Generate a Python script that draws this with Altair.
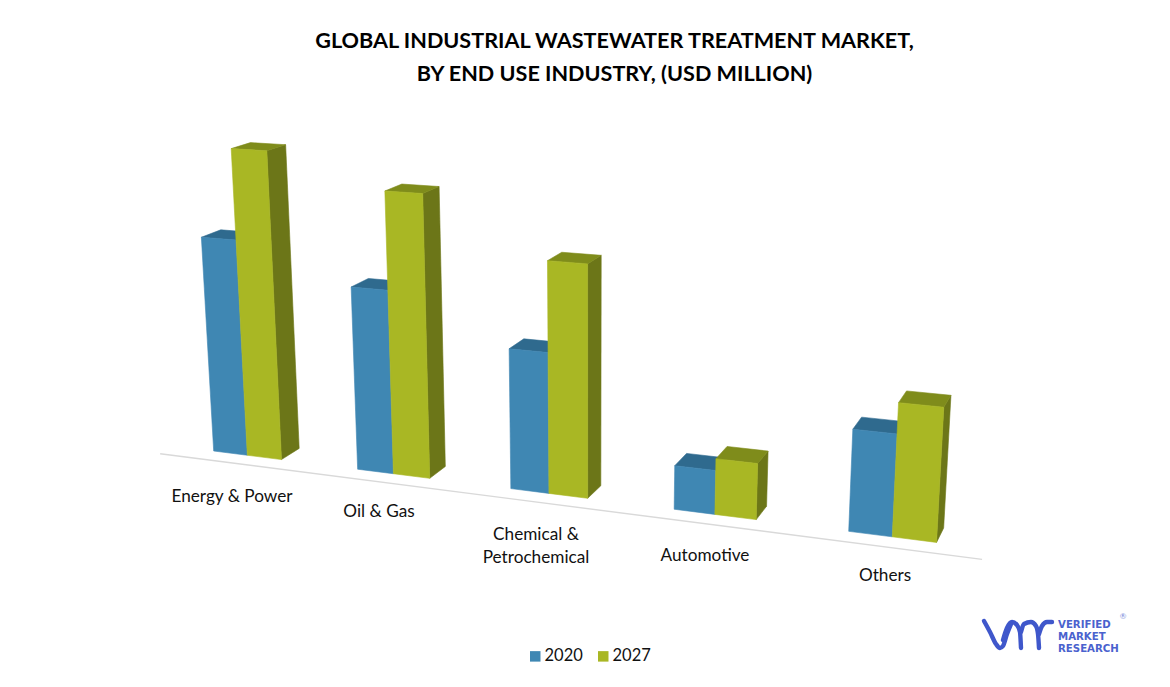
import altair as alt
import pandas as pd

categories = ["Energy & Power", "Oil & Gas", "Chemical & Petrochemical", "Automotive", "Others"]
values_2020 = [207.0, 172.4, 129.4, 39.7, 89.5]
values_2027 = [291.0, 261.8, 210.9, 50.3, 116.2]
series = ["2020", "2027"]
title_lines = ["GLOBAL INDUSTRIAL WASTEWATER TREATMENT MARKET,", "BY END USE INDUSTRY, (USD MILLION)"]

FRONT = {"2020": "#3F87B3", "2027": "#A9B724"}
TOP = {"2020": "#2F6A8E", "2027": "#7F8C1B"}
SIDE = {"2020": "#2F6A8E", "2027": "#6C7618"}
FONT = "Lato"
W, H = 1154, 671

# Perspective camera: X along the category axis, Y depth, Z the value
PITCH = 4.18


def project(X, Y, Z):
    w = 1 - 0.00721 * X + 0.0175 * Y - 0.0001534 * Z
    px = 213.7 + 31.86 * X + 22.68 * Y - 0.0905 * Z
    py = 451 + 0.973 * X - 3.17 * Y - 1.069 * Z
    return px / w, py / w


xs = alt.Scale(domain=[8, 8 + W], nice=False, zero=False)
ys = alt.Scale(domain=[8 + H, 8], nice=False, zero=False)
X_ENC = alt.X("px:Q", scale=xs, axis=None)
Y_ENC = alt.Y("py:Q", scale=ys, axis=None)


def polygon(corners, color, name):
    rows = []
    for i, c in enumerate(corners + corners[:1]):
        px, py = project(*c)
        rows.append({"px": px, "py": py, "i": i, "face": name})
    return (
        alt.Chart(pd.DataFrame(rows))
        .mark_line(fill=color, stroke=color, strokeWidth=0.6, interpolate="linear", clip=False)
        .encode(x=X_ENC, y=Y_ENC, order="i:Q")
    )


layers = []

# invisible layer that carries the legend
legend_df = pd.DataFrame({"series": series, "px": [-100, -100], "py": [-100, -100]})
layers.append(
    alt.Chart(legend_df)
    .mark_square(opacity=0, clip=True)
    .encode(
        x=X_ENC,
        y=Y_ENC,
        color=alt.Color(
            "series:N",
            scale=alt.Scale(domain=series, range=[FRONT[s] for s in series]),
            legend=alt.Legend(
                title=None,
                orient="none",
                direction="horizontal",
                legendX=519,
                legendY=640,
                symbolType="square",
                symbolSize=110,
                symbolOpacity=1,
                symbolStrokeWidth=0,
                labelFont=FONT,
                labelFontSize=16.5,
                labelColor="#111111",
                labelOffset=1,
                columnPadding=12,
                padding=0,
            ),
        ),
    )
)

# floor line
axis_rows = []
for i, X in enumerate([-1.2, 19.83]):
    px, py = project(X, -0.7, 0)
    axis_rows.append({"px": px, "py": py, "i": i})
layers.append(
    alt.Chart(pd.DataFrame(axis_rows))
    .mark_line(color="#D9D9D9", strokeWidth=1.4)
    .encode(x=X_ENC, y=Y_ENC, order="i:Q")
)

# bars
for k, cat in enumerate(categories):
    for j, (s, v) in enumerate(zip(series, (values_2020[k], values_2027[k]))):
        x0 = k * PITCH + j
        x1 = x0 + 1
        name = f"{cat} {s}"
        if s == "2027":
            layers.append(polygon([(x1, 0, 0), (x1, 1, 0), (x1, 1, v), (x1, 0, v)], SIDE[s], name + " side"))
        layers.append(polygon([(x0, 0, v), (x1, 0, v), (x1, 1, v), (x0, 1, v)], TOP[s], name + " top"))
        layers.append(polygon([(x0, 0, 0), (x1, 0, 0), (x1, 0, v), (x0, 0, v)], FRONT[s], name + " front"))

# category labels
labels = pd.DataFrame(
    {
        "text": ["Energy & Power", "Oil & Gas", "Chemical &", "Petrochemical", "Automotive", "Others"],
        "px": [232, 379, 536, 536, 705, 885],
        "py": [497, 512, 535, 558, 556, 576],
    }
)
layers.append(
    alt.Chart(labels)
    .mark_text(font=FONT, fontSize=17.2, color="#111111", align="center", baseline="middle")
    .encode(x=X_ENC, y=Y_ENC, text="text:N")
)

# logo
logo_paths = {
    "v": ([984, 990, 996, 1000, 1003, 1007, 1011], [621, 632, 644, 648, 646, 634, 624]),
    "m1": ([1003, 1007, 1012, 1017, 1020, 1021], [640, 628, 622, 625, 632, 648]),
    "m2": ([1021, 1024, 1031, 1036, 1038, 1039], [632, 624, 622, 626, 634, 648]),
    "r": ([1039, 1042, 1047, 1052], [634, 626, 622, 622]),
}
for name, (lx, ly) in logo_paths.items():
    layers.append(
        alt.Chart(pd.DataFrame({"px": lx, "py": ly, "i": range(len(lx))}))
        .mark_line(color="#3F57CB", strokeWidth=4.4, interpolate="monotone", strokeCap="round")
        .encode(x=X_ENC, y=Y_ENC, order="i:Q")
    )
logo_text = pd.DataFrame(
    {
        "text": ["VERIFIED", "MARKET", "RESEARCH"],
        "px": [1058, 1058, 1058],
        "py": [625, 637, 649],
    }
)
layers.append(
    alt.Chart(logo_text)
    .mark_text(font="DejaVu Sans", fontSize=10.2, fontWeight="bold", color="#4A62CE", align="left", baseline="middle")
    .encode(x=X_ENC, y=Y_ENC, text="text:N")
)
layers.append(
    alt.Chart(pd.DataFrame({"text": ["®"], "px": [1123], "py": [617]}))
    .mark_text(font=FONT, fontSize=8, color="#7C8DDB", align="center", baseline="middle")
    .encode(x=X_ENC, y=Y_ENC, text="text:N")
)

chart = (
    alt.layer(*layers)
    .properties(
        width=W,
        height=H,
        autosize=alt.AutoSizeParams(type="none"),
        padding=0,
        title=alt.Title(
            text=title_lines,
            font=FONT,
            fontSize=21.6,
            fontWeight="bold",
            color="#000000",
            anchor="middle",
            baseline="top",
            lineHeight=33,
            dx=29.5,
            dy=78,
            offset=0,
        ),
    )
    .configure_view(stroke="transparent", strokeWidth=0, fill="white")
)
chart.save("out.html", embed_options={"renderer": "svg", "actions": False})
